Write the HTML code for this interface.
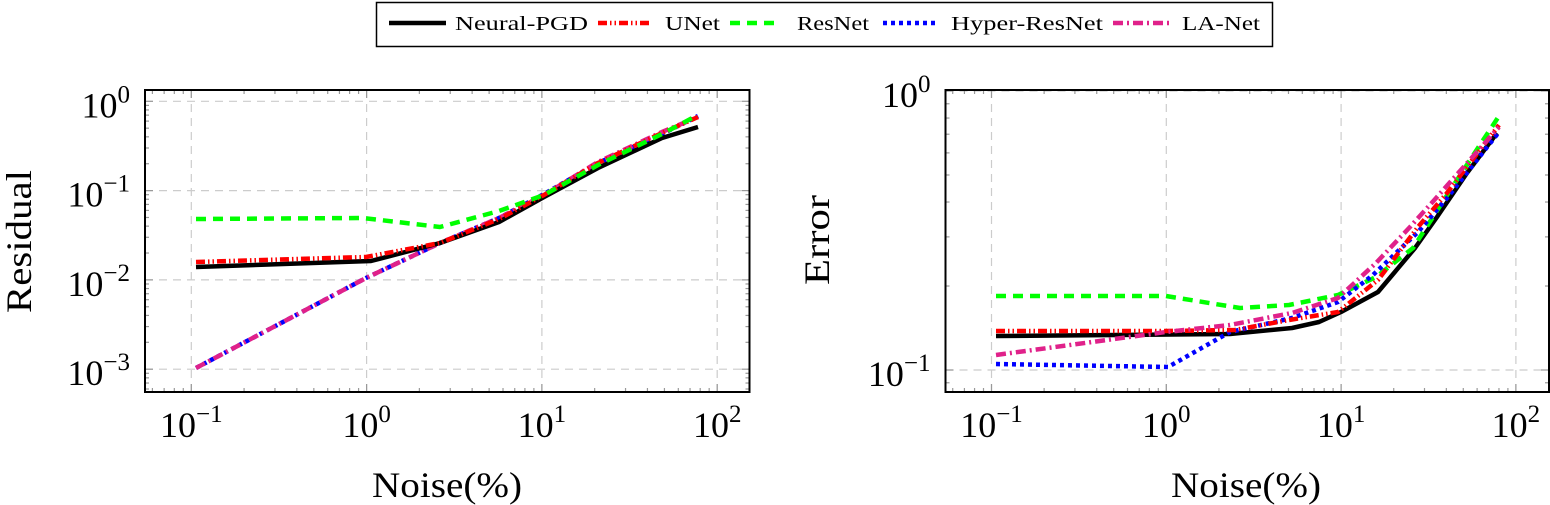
<!DOCTYPE html>
<html><head><meta charset="utf-8"><style>
html,body{margin:0;padding:0;background:#fff;}
svg{display:block;font-family:"Liberation Serif",serif;}
</style></head><body>
<svg id="s" width="1550" height="505" viewBox="0 0 1550 505" xmlns="http://www.w3.org/2000/svg">
<rect x="376.5" y="2.5" width="896" height="44" fill="#fff" stroke="#000" stroke-width="1.5"/>
<g stroke-width="4.5" fill="none">
<line x1="389" y1="23" x2="446" y2="23" stroke="#000"/>
<line x1="598" y1="23" x2="650" y2="23" stroke="#f00" stroke-dasharray="9,3,1.5,3,1.5,3"/>
<line x1="730" y1="23" x2="781" y2="23" stroke="#0f0" stroke-dasharray="10,7"/>
<line x1="883" y1="23" x2="938" y2="23" stroke="#00f" stroke-dasharray="4,4"/>
<line x1="1113" y1="23" x2="1171" y2="23" stroke="#e0218a" stroke-dasharray="10,4,2,4"/>
</g>
<g font-size="20" fill="#000">
<text x="455" y="30" textLength="133" lengthAdjust="spacingAndGlyphs">Neural-PGD</text>
<text x="665" y="30" textLength="55" lengthAdjust="spacingAndGlyphs">UNet</text>
<text x="797" y="30" textLength="72" lengthAdjust="spacingAndGlyphs">ResNet</text>
<text x="951" y="30" textLength="152" lengthAdjust="spacingAndGlyphs">Hyper-ResNet</text>
<text x="1182" y="30" textLength="78" lengthAdjust="spacingAndGlyphs">LA-Net</text>
</g>
<g id="axes"></g>
<g font-size="36" fill="#000">
<text x="372" y="497" textLength="150" lengthAdjust="spacingAndGlyphs">Noise(%)</text>
<text x="1171" y="497" textLength="150" lengthAdjust="spacingAndGlyphs">Noise(%)</text>
<text transform="translate(31,313) rotate(-90)" textLength="143" lengthAdjust="spacingAndGlyphs">Residual</text>
<text transform="translate(829,285) rotate(-90)" textLength="90" lengthAdjust="spacingAndGlyphs">Error</text>
</g>
<g fill="none" stroke-width="4.5" stroke-linejoin="round">
<polyline stroke="#00f" stroke-dasharray="4,4" points="196,368 366,278 440,243 499,218 544,194 598,163 662,134 698,116"/>
<polyline stroke="#e0218a" stroke-dasharray="10,4,2,4" points="196,368 366,278 440,243 499,218 544,195 598,162 662,132 698,117"/>
<polyline stroke="#000" points="196,267 371,261 440,243 499,222 544,197 598,168 662,138 698,127"/>
<polyline stroke="#f00" stroke-dasharray="9,3,1.5,3,1.5,3" points="196,262 366,257 440,243 499,219 544,195 598,163 662,133 698,117"/>
<polyline stroke="#0f0" stroke-dasharray="10,7" points="196,219 363,218 440,227 499,211 544,195 598,165 662,134 698,115"/>
<polyline stroke="#000" points="996,336 1230,334 1292,328 1319,322 1341,312 1378,292 1415,248 1437,217 1467,173 1497,133"/>
<polyline stroke="#0f0" stroke-dasharray="10,7" points="996,296 1166,296 1240,308 1289,305 1338,295 1376,277 1413,248 1442,203 1472,157 1499,116"/>
<polyline stroke="#00f" stroke-dasharray="4,4" points="996,364 1168,367 1230,332 1292,318 1338,302 1373,275 1418,232 1447,198 1499,132"/>
<polyline stroke="#f00" stroke-dasharray="9,3,1.5,3,1.5,3" points="996,331 1166,331 1235,330 1289,320 1338,312 1378,280 1418,227 1447,193 1499,125"/>
<polyline stroke="#e0218a" stroke-dasharray="10,4,2,4" points="996,355 1166,332 1230,325 1292,313 1338,298 1376,263 1410,227 1437,197 1499,127"/>
</g>
</svg>
<script>
(function(){
var NS="http://www.w3.org/2000/svg",g=document.getElementById("axes");
function el(n,a,t){var e=document.createElementNS(NS,n);for(var k in a)e.setAttribute(k,a[k]);if(t!==undefined)e.innerHTML=t;g.appendChild(e);return e;}
function ln(x1,y1,x2,y2,st){return el("line",Object.assign({x1:x1,y1:y1,x2:x2,y2:y2},st));}
function axis(L,R,T,B,x0,dx,y0,dy,ydec){
 var grid={stroke:"#ccc","stroke-width":1.2,"stroke-dasharray":"8,6"},tk={stroke:"#999","stroke-width":1.2};
 for(var d=-1;d<=2;d++){var x=x0+(d+1)*dx;ln(x,T,x,B,grid);}
 ydec.forEach(function(d){var y=y0-d*dy;ln(L,y,R,y,grid);});
 for(var d=-2;d<=2;d++)for(var m=1;m<10;m++){var x=x0+(d+1+Math.log10(m))*dx;if(x<L+1||x>R-1)continue;var len=m==1?8:4;ln(x,T,x,T+len,tk);ln(x,B,x,B-len,tk);}
 for(var d=-4;d<=1;d++)for(var m=1;m<10;m++){var y=y0-(d+Math.log10(m))*dy;if(y<T+1||y>B-1)continue;var len=m==1?8:4;ln(L,y,L+len,y,tk);ln(R,y,R-len,y,tk);}
 el("rect",{x:L,y:T,width:R-L,height:B-T,fill:"none",stroke:"#000","stroke-width":2});
 var labs=["\u22121","0","1","2"];
 for(var d=-1;d<=2;d++){var x=x0+(d+1)*dx;
  el("text",{x:x,y:437,"font-size":36,"text-anchor":"middle"},'10<tspan font-size="25" dy="-15">'+labs[d+1]+'</tspan>');}
 ydec.forEach(function(d){var y=y0-d*dy;var s=d==0?"0":"\u2212"+(-d);
  el("text",{x:L-15,y:y+16,"font-size":36,"text-anchor":"end"},'10<tspan font-size="25" dy="-15">'+s+'</tspan>');});
}
axis(145,749.5,90,392,191.3,175.3,101.3,89.3,[0,-1,-2,-3]);
axis(945.5,1549,90,392,991.5,174.8,91,279,[0,-1]);
})();
</script>
</body></html>
